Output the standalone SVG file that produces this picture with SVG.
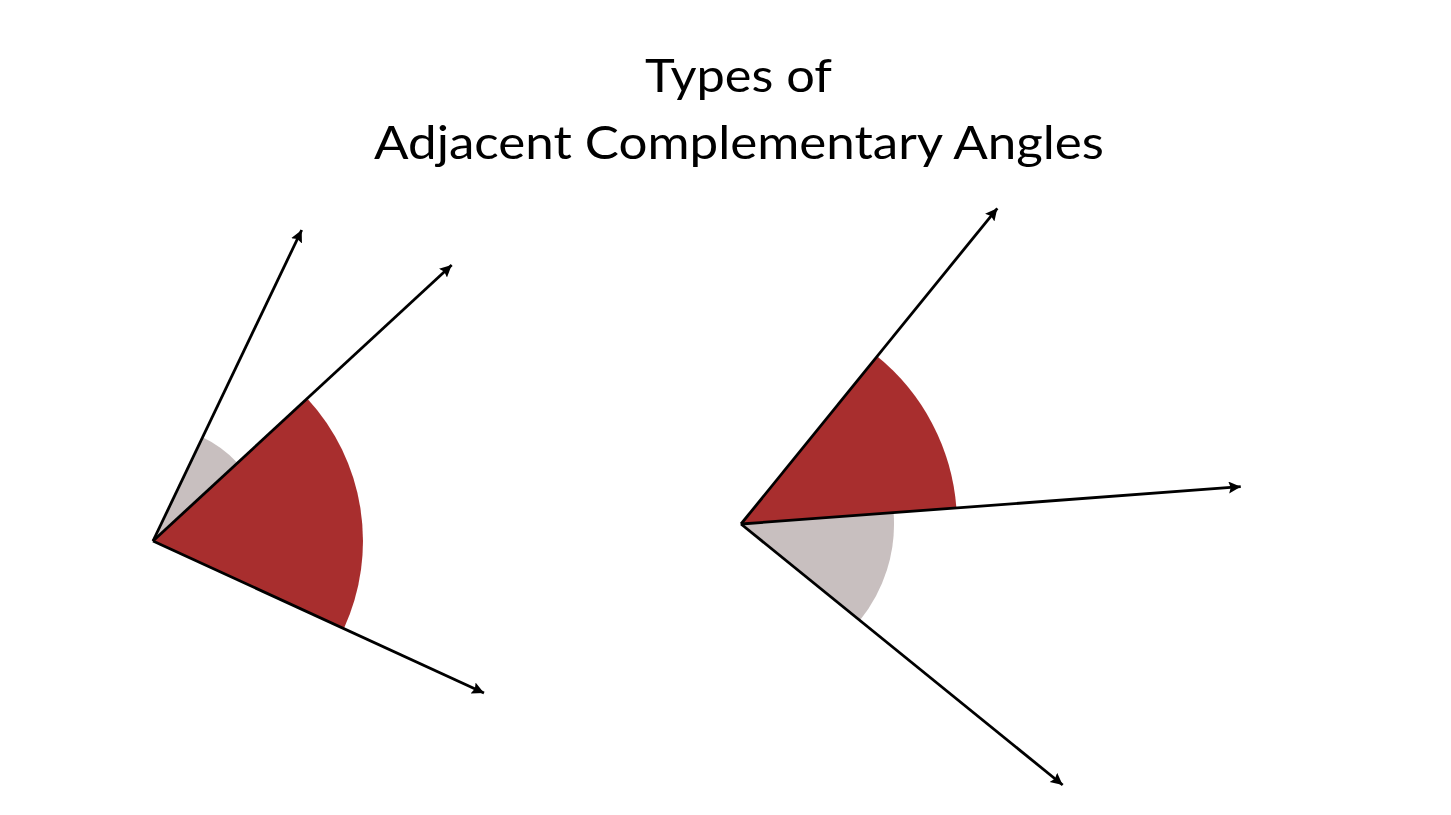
<svg xmlns="http://www.w3.org/2000/svg" width="1451" height="815" viewBox="0 0 1451 815">
  <style>
    .title { font-family: "Lato", "Open Sans", "Liberation Sans", sans-serif; font-size: 47px; fill: #000; text-anchor: middle; }
    .ray { stroke: #000; stroke-width: 2.8; fill: none; marker-end: url(#arrow); }
    .red { fill: #A82E2E; }
    .gray { fill: #C8BFBF; }
  </style>
  <defs>
    <marker id="arrow" markerUnits="userSpaceOnUse" markerWidth="16" markerHeight="14" refX="12" refY="6" orient="auto">
      <path d="M0,0 L12,6 L0,12 L2,6 Z" fill="#000"/>
    </marker>
  </defs>
  <rect width="1451" height="815" fill="#fff"/>
  <g id="title">
    <text class="title" x="738.5" y="92" textLength="187" lengthAdjust="spacingAndGlyphs">Types of</text>
    <text class="title" x="739" y="159" textLength="730" lengthAdjust="spacingAndGlyphs">Adjacent Complementary Angles</text>
  </g>
  <g id="left-angles">
    <path class="gray" d="M153,541 L202.6,437.3 A115,115 0 0 1 237.5,463 Z"/>
    <path class="red" d="M153,541 L307.2,398.5 A210,210 0 0 1 343.8,628.7 Z"/>
  </g>
  <g id="right-angles">
    <path class="red" d="M741,524 L877.1,356.3 A216,216 0 0 1 956.4,507.9 Z"/>
    <path class="gray" d="M741,524 L893.6,512.6 A153,153 0 0 1 859.8,620.4 Z"/>
  </g>
  <g id="connectors">
    <line class="ray" x1="153" y1="541" x2="301.7" y2="230"/>
    <line class="ray" x1="153" y1="541" x2="451.7" y2="265"/>
    <line class="ray" x1="153" y1="541" x2="484" y2="693"/>
    <line class="ray" x1="741" y1="524" x2="997.3" y2="208.3"/>
    <line class="ray" x1="741" y1="524" x2="1240.7" y2="486.7"/>
    <line class="ray" x1="741" y1="524" x2="1062.7" y2="785"/>
  </g>
</svg>
